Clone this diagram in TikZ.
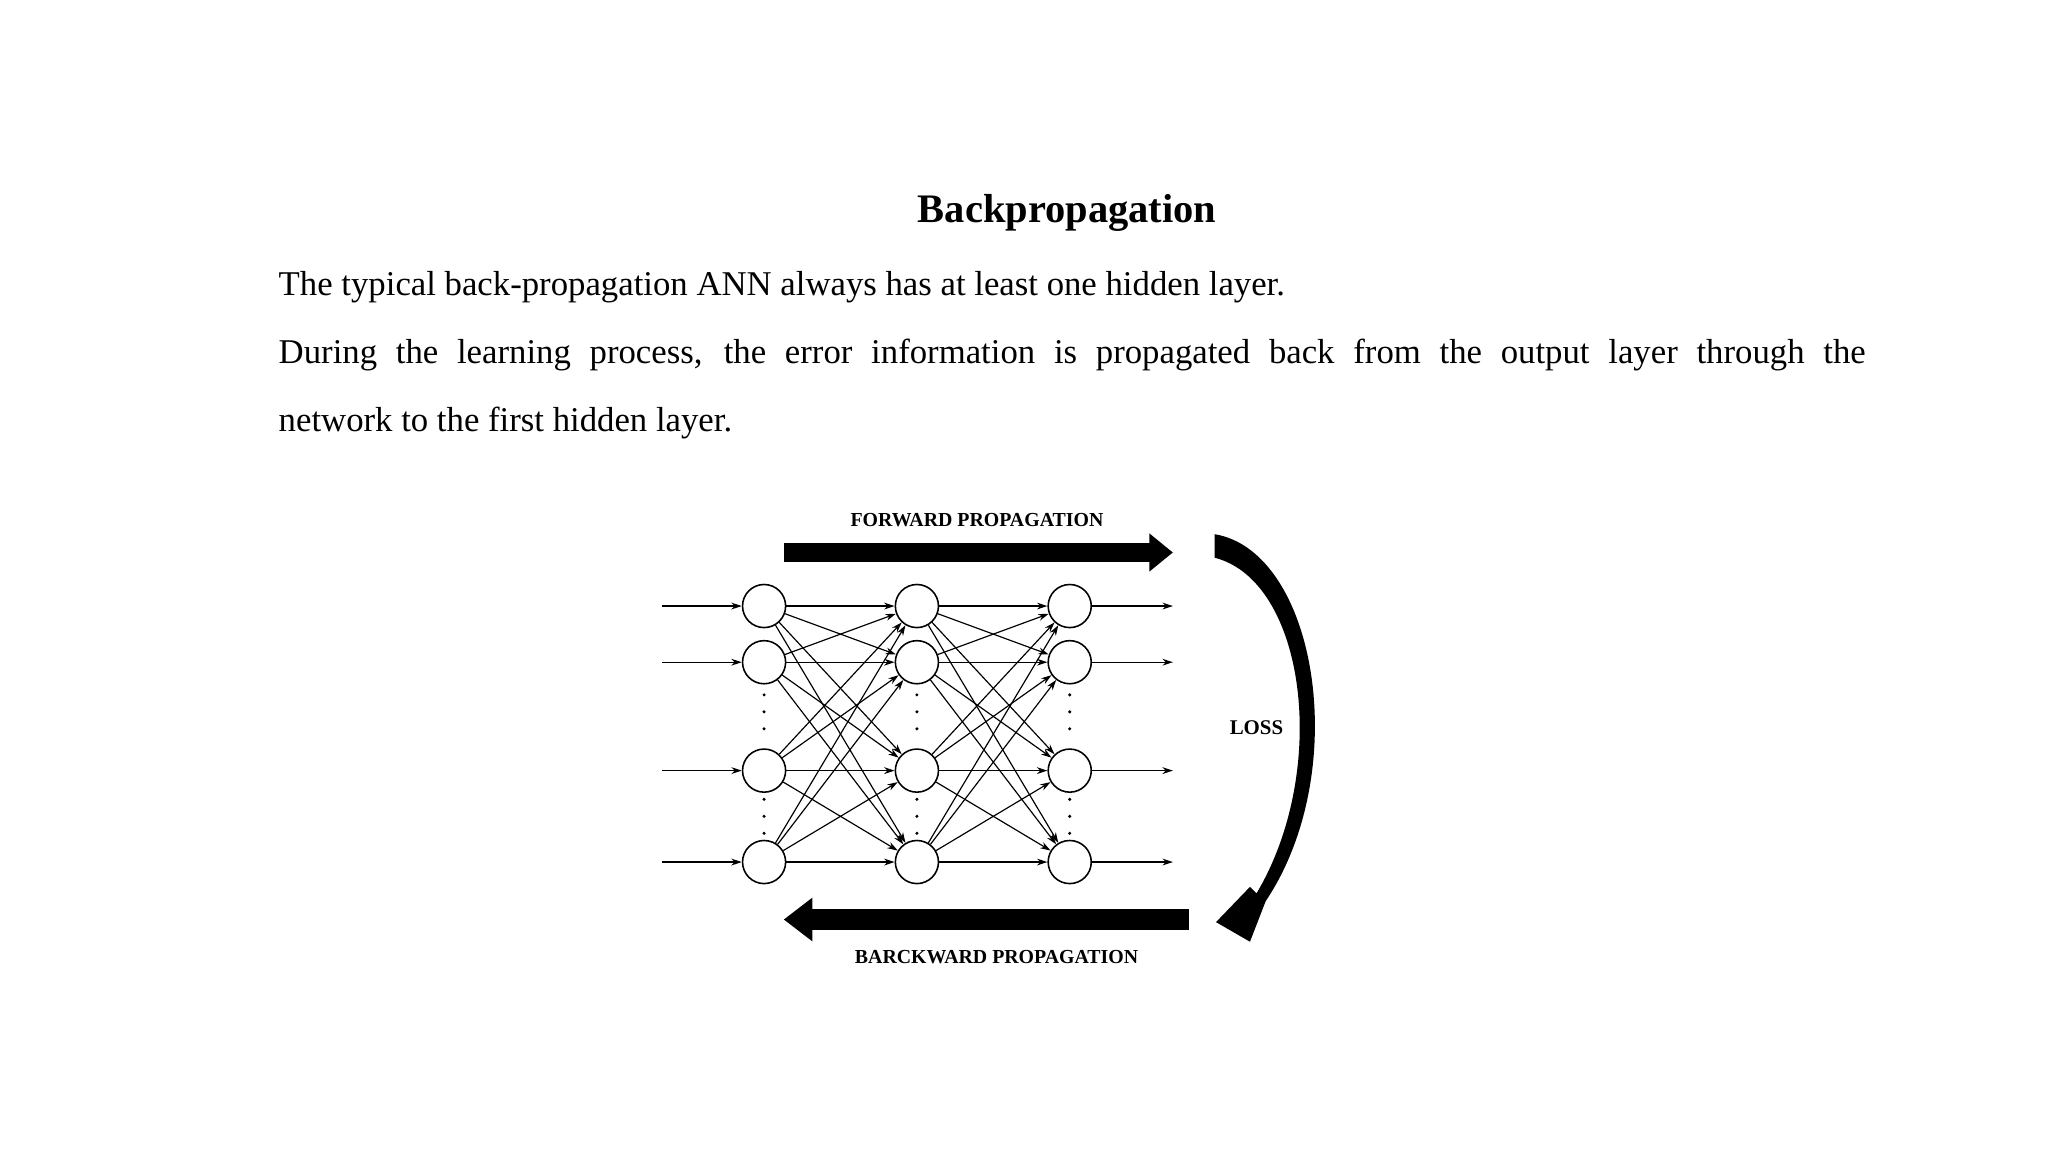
\documentclass[tikz,border=0pt]{standalone}
\usepackage{fontspec}
\setmainfont{Liberation Serif}
\usetikzlibrary{arrows.meta}
\begin{document}
\begin{tikzpicture}[x=0.5pt,y=-0.5pt,
  neuron/.style={circle,draw,line width=0.6pt,minimum size=16.5pt,inner sep=0pt,fill=white},
  conn/.style={line width=0.45pt,-{Stealth[length=4pt,width=2.6pt]}},
  body/.style={anchor=base west,inner sep=0pt,font=\fontsize{13.3}{15}\selectfont},
  lab/.style={font=\bfseries\fontsize{7.6}{9}\selectfont,inner sep=0pt},
  dot/.style={circle,fill,inner sep=0pt,minimum size=1.3pt}]
\useasboundingbox (0,0) rectangle (1568,882);
\node[font=\bfseries\fontsize{15.5}{18}\selectfont] (title) at (817,163) {Backpropagation};
\node[body] (l1) at (213,226) {The typical back-propagation ANN always has at least one hidden layer.};
\node[body] (l2) at (213,278) {\makebox[607.5pt][s]{During the learning process, the error information is propagated back from the output layer through the}};
\node[body] (l3) at (213,330) {network to the first hidden layer.};
% neurons
\foreach \L/\x in {1/585,2/702,3/819}{
  \foreach \R/\y in {1/464,2/507,3/590,4/660}{
    \node[neuron] (n\L\R) at (\x,\y) {};
  }
  \foreach \yy in {532,545,558,612,625,638}{
    \node[dot] at (\x,\yy) {};
  }
}
\foreach \R/\y in {1/464,2/507,3/590,4/660}{
  \coordinate (in\R) at (507,\y);
  \coordinate (out\R) at (898,\y);
  \draw[conn] (in\R) -- (n1\R);
  \draw[conn] (n3\R) -- (out\R);
}
\foreach \a in {1,2,3,4}{\foreach \b in {1,2,3,4}{
  \draw[conn] (n1\a) -- (n2\b);
  \draw[conn] (n2\a) -- (n3\b);
}}
% big arrows
\node[lab] (fwd) at (748,398) {FORWARD PROPAGATION};
\coordinate (fa) at (600,423); \coordinate (fb) at (898,423);
\draw[line width=7pt,-{Triangle[length=9pt,width=14pt]}] (fa) -- (fb);
\node[lab] (bwd) at (763,733) {BARCKWARD PROPAGATION};
\coordinate (ba) at (910,704); \coordinate (bb) at (600,704);
\draw[line width=8pt,-{Triangle[length=11pt,width=16pt]}] (ba) -- (bb);
% loss curve
\fill (930,409) .. controls (1008,422) and (1036,590) .. (969,690)
  -- (957,721) -- (931,706) -- (957,679) -- (962,684)
  .. controls (1018,590) and (1000,445) .. (930,427) -- cycle;
\node[lab,font=\bfseries\fontsize{8}{9}\selectfont] (loss) at (962,557) {LOSS};
\end{tikzpicture}
\end{document}
